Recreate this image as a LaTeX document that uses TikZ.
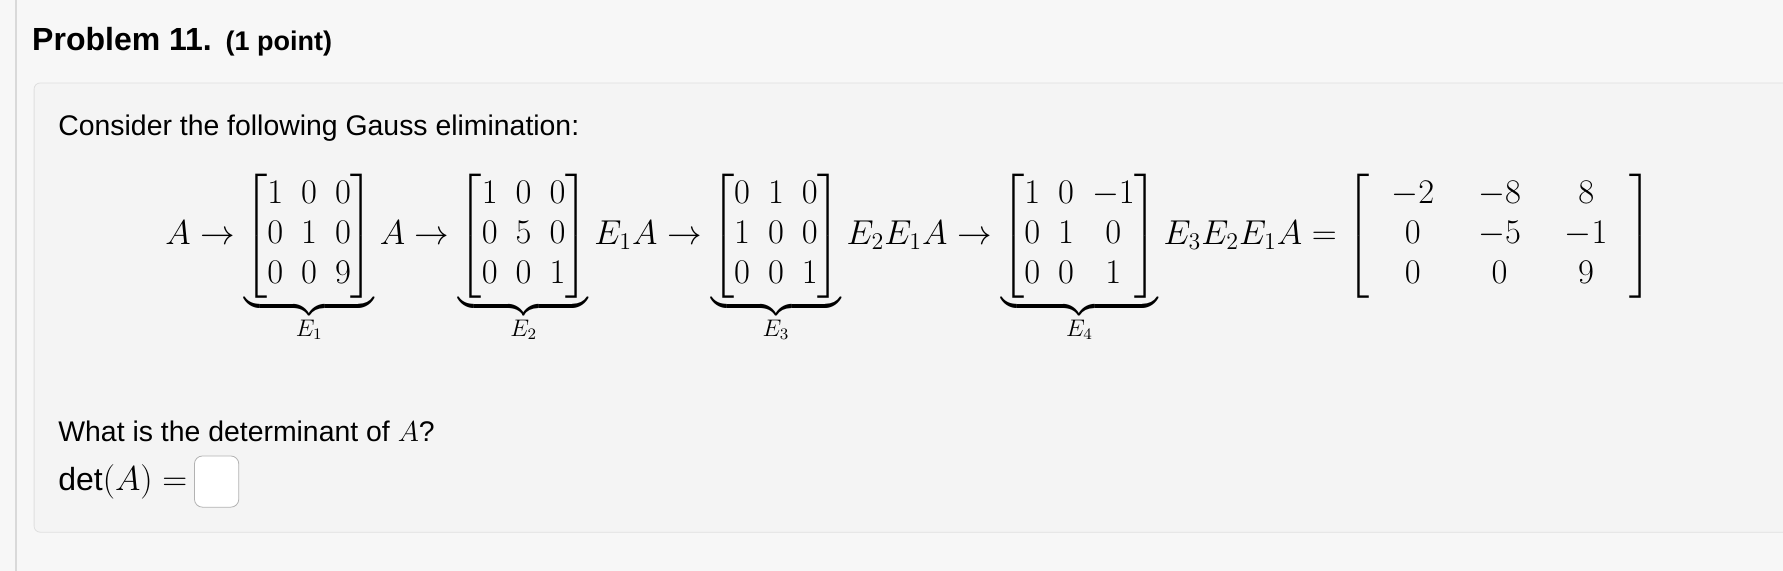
\documentclass[tikz,border=0pt]{standalone}
\usepackage{amsmath}
\usepackage{fontspec}
\setmainfont{Liberation Sans}
\begin{document}
\begin{tikzpicture}[x=0.5686pt,y=-0.5686pt,
  txt/.style={inner sep=0pt,anchor=base west,font=\fontsize{14.2}{17}\selectfont}]
\useasboundingbox (0,0) rectangle (1568,502);
\fill[gray!6] (0,0) rectangle (1568,502);
\draw[gray!30,line width=1pt] (14,0) -- (14,502);
\node[txt,font=\bfseries\fontsize{16}{19}\selectfont] (title) at (28,44) {Problem 11.};
\node[txt,font=\bfseries\fontsize{13.5}{16}\selectfont] (pts) at (198,44) {(1 point)};
\draw[gray!25,fill=gray!9,rounded corners=3pt] (30,73) rectangle (1575,468);
\node[txt] (q1) at (51,119) {Consider the following Gauss elimination:};
\node[anchor=base west,inner sep=0pt,font=\fontsize{16.5}{20}\selectfont] (eq) at (145,215) {$\displaystyle
\arraycolsep=4.5pt
A\to\underbrace{\begin{bmatrix}1&0&0\\0&1&0\\0&0&9\end{bmatrix}}_{E_1}A\to
\underbrace{\begin{bmatrix}1&0&0\\0&5&0\\0&0&1\end{bmatrix}}_{E_2}E_1A\to
\underbrace{\begin{bmatrix}0&1&0\\1&0&0\\0&0&1\end{bmatrix}}_{E_3}E_2E_1A\to
\underbrace{\begin{bmatrix}1&0&-1\\0&1&0\\0&0&1\end{bmatrix}}_{E_4}E_3E_2E_1A=
{\arraycolsep=11pt\left[\begin{array}{ccc}-2&-8&8\\0&-5&-1\\0&0&9\end{array}\right]}$};
\node[txt] (q2) at (51,388) {What is the determinant of $A$?};
\node[anchor=base west,inner sep=0pt,font=\fontsize{16}{19}\selectfont] (det) at (51,431) {$\det(A)=$};
\draw[gray!60,fill=white,rounded corners=4pt] (171,401) rectangle (210,446);
\end{tikzpicture}
\end{document}
